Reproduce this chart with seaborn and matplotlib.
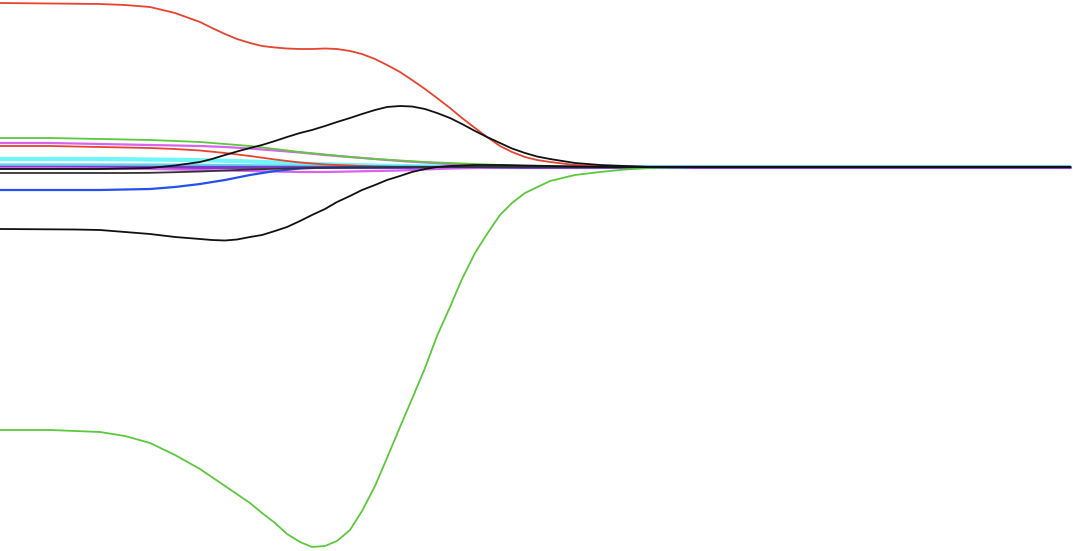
import matplotlib
matplotlib.use("Agg")
import matplotlib.pyplot as plt
import pandas as pd
import seaborn as sns

# shared grid for the nearly flat paths (step index along x)
steps = [0, 0.25, 0.5, 0.75, 1.0, 1.25, 1.5, 1.75, 2.0, 2.25, 2.5, 2.75, 3.0, 3.25, 3.5,
         3.75, 4.0, 4.25, 4.5, 4.75, 5.0, 5.25, 5.5, 5.75, 6.0, 6.25, 6.5, 6.75, 7.0, 10.7]

cyan_wide = [0.08, 0.08, 0.08, 0.08, 0.08, 0.078, 0.075, 0.072, 0.068, 0.062, 0.055, 0.045, 0.035, 0.027, 0.02,
             0.014, 0.01, 0.006, 0.003, 0.001, 0, 0, 0, 0, 0, 0, 0, 0, 0, 0]
cyan_thin = [0.025, 0.025, 0.025, 0.025, 0.025, 0.025, 0.025, 0.024, 0.023, 0.02, 0.018, 0.015, 0.012, 0.01, 0.008,
             0.006, 0.004, 0.002, 0.001, 0, 0, 0, 0, 0, 0, 0, 0, 0, 0, 0]
light_blue = [0.01, 0.01, 0.01, 0.01, 0.01, 0.01, 0.01, 0.01, 0.009, 0.008, 0.007, 0.006, 0.005, 0.004, 0.003,
              0.002, 0.001, 0, 0, 0, 0, 0, 0, 0, 0, 0, 0, 0, 0, 0]
magenta_upper = [0.24, 0.24, 0.24, 0.235, 0.23, 0.225, 0.22, 0.215, 0.21, 0.20, 0.185, 0.165, 0.145, 0.12, 0.10,
                 0.08, 0.06, 0.045, 0.03, 0.02, 0.01, 0.005, 0, 0, 0, 0, 0, 0, 0, 0]
magenta_lower = [-0.01, -0.01, -0.01, -0.012, -0.015, -0.018, -0.02, -0.025, -0.03, -0.035, -0.04, -0.045, -0.05, -0.05, -0.045,
                 -0.04, -0.035, -0.025, -0.015, -0.01, -0.005, 0, 0, 0, 0, 0, 0, 0, 0, 0]
purple_base = [0, 0, 0, 0, 0, 0, 0, 0, 0, 0, 0, 0, 0, 0, 0,
               0, 0, 0, 0, 0, 0, 0, 0, 0, 0, 0, 0, 0, 0, 0]
green_upper = [0.29, 0.29, 0.29, 0.285, 0.28, 0.275, 0.27, 0.26, 0.25, 0.23, 0.21, 0.18, 0.15, 0.125, 0.10,
               0.08, 0.065, 0.05, 0.04, 0.03, 0.02, 0.01, 0.005, 0, 0, 0, 0, 0, 0, 0]
red_lower = [0.21, 0.21, 0.21, 0.205, 0.20, 0.195, 0.19, 0.18, 0.165, 0.14, 0.11, 0.075, 0.045, 0.025, 0.015,
             0.005, 0, 0, 0, 0, 0, 0, 0, 0, 0, 0, 0, 0, 0, 0]
blue = [-0.23, -0.23, -0.23, -0.23, -0.23, -0.225, -0.22, -0.20, -0.17, -0.13, -0.08, -0.04, -0.015, -0.005, 0,
        0, 0, 0, 0, 0, 0, 0, 0, 0, 0, 0, 0, 0, 0, 0]
dark_flat = [-0.06, -0.06, -0.06, -0.06, -0.06, -0.06, -0.058, -0.052, -0.045, -0.035, -0.025, -0.018, -0.012, -0.008, -0.005,
             -0.003, -0.001, 0, 0, 0, 0, 0, 0, 0, 0, 0, 0, 0, 0, 0]

# the strongly moving paths, each read on its own finer grid
green_lower_steps = [0, 0.5, 1.0, 1.25, 1.5, 1.75, 2.0, 2.25, 2.5, 2.62, 2.75, 2.87, 3.0, 3.12, 3.25, 3.37,
                     3.5, 3.62, 3.75, 3.87, 4.0, 4.12, 4.25, 4.37, 4.5, 4.62, 4.75, 4.87, 5.0, 5.12, 5.25,
                     5.5, 5.75, 6.0, 6.25, 6.5, 7.0, 10.7]
green_lower = [-2.63, -2.63, -2.65, -2.69, -2.76, -2.88, -3.02, -3.19, -3.36, -3.46, -3.56, -3.67, -3.75, -3.80, -3.79, -3.74,
               -3.63, -3.44, -3.19, -2.91, -2.60, -2.32, -2.01, -1.69, -1.40, -1.12, -0.86, -0.67, -0.48, -0.36, -0.26,
               -0.14, -0.08, -0.05, -0.025, -0.01, 0, 0]

red_upper_steps = [0, 1.0, 1.25, 1.5, 1.75, 2.0, 2.12, 2.25, 2.37, 2.5, 2.62, 2.75, 2.87, 3.0, 3.12, 3.25, 3.37,
                   3.5, 3.62, 3.75, 3.87, 4.0, 4.12, 4.25, 4.37, 4.5, 4.62, 4.75, 4.87, 5.0, 5.12, 5.25, 5.37,
                   5.5, 5.75, 6.0, 6.5, 10.7]
red_upper = [1.64, 1.63, 1.62, 1.60, 1.54, 1.45, 1.39, 1.33, 1.28, 1.24, 1.21, 1.195, 1.185, 1.18, 1.18, 1.185, 1.18,
             1.16, 1.13, 1.08, 1.02, 0.95, 0.87, 0.78, 0.69, 0.59, 0.49, 0.39, 0.30, 0.21, 0.15, 0.10, 0.07,
             0.05, 0.02, 0.01, 0, 0]

black_bump_steps = [0, 1.0, 1.5, 1.75, 2.0, 2.12, 2.25, 2.37, 2.5, 2.62, 2.75, 2.87, 3.0, 3.12, 3.25, 3.37,
                    3.5, 3.62, 3.75, 3.87, 4.0, 4.12, 4.25, 4.37, 4.5, 4.62, 4.75, 4.87, 5.0, 5.12, 5.25, 5.37,
                    5.5, 5.75, 6.0, 6.25, 6.5, 10.7]
black_bump = [-0.02, -0.02, -0.01, 0.015, 0.05, 0.08, 0.12, 0.155, 0.19, 0.22, 0.26, 0.30, 0.34, 0.37, 0.41, 0.45,
              0.49, 0.53, 0.57, 0.60, 0.61, 0.605, 0.58, 0.54, 0.49, 0.43, 0.36, 0.30, 0.24, 0.185, 0.14, 0.105,
              0.08, 0.04, 0.02, 0.01, 0, 0]

black_lower_steps = [0, 0.75, 1.0, 1.25, 1.5, 1.75, 2.0, 2.12, 2.25, 2.37, 2.5, 2.62, 2.75, 2.87, 3.0, 3.12,
                     3.25, 3.37, 3.5, 3.62, 3.75, 3.87, 4.0, 4.12, 4.25, 4.37, 4.5, 4.75, 5.0, 5.5, 6.0, 10.7]
black_lower = [-0.62, -0.625, -0.63, -0.65, -0.67, -0.70, -0.72, -0.73, -0.735, -0.725, -0.70, -0.68, -0.64, -0.60, -0.54, -0.48,
               -0.42, -0.35, -0.29, -0.23, -0.18, -0.13, -0.09, -0.05, -0.02, 0.0, 0.01, 0.02, 0.02, 0.01, 0, 0]

# name, x, values, colour, width (drawn in this order)
paths = [
    ("cyan_wide", steps, cyan_wide, "#6ff6f8", 3.0),
    ("cyan_thin", steps, cyan_thin, "#55d8f0", 1.6),
    ("light_blue", steps, light_blue, "#7fb0e6", 1.4),
    ("purple_base", steps, purple_base, "#7a3cc8", 2.2),
    ("magenta_lower", steps, magenta_lower, "#d763ee", 1.6),
    ("magenta_upper", steps, magenta_upper, "#d763ee", 1.6),
    ("green_upper", steps, green_upper, "#5cc83c", 1.3),
    ("green_lower", green_lower_steps, green_lower, "#5cc83c", 1.3),
    ("red_lower", steps, red_lower, "#e8432f", 1.3),
    ("red_upper", red_upper_steps, red_upper, "#e8432f", 1.3),
    ("blue", steps, blue, "#2450f0", 1.6),
    ("dark_flat", steps, dark_flat, "#333333", 1.3),
    ("black_lower", black_lower_steps, black_lower, "#111111", 1.3),
    ("black_bump", black_bump_steps, black_bump, "#111111", 1.3),
]

sns.set_style("white")
fig, ax = plt.subplots(figsize=(10.73, 5.51), dpi=100)
fig.subplots_adjust(left=0, right=1, bottom=0, top=1)

for name, xs, vals, color, lw in paths:
    df = pd.DataFrame({"step": xs, "coef": vals})
    sns.lineplot(data=df, x="step", y="coef", color=color, linewidth=lw,
                 estimator=None, sort=False, ax=ax, solid_joinstyle="round")

ax.set_xlim(0, 10.73)
ax.set_ylim(-3.84, 1.67)
ax.set_axis_off()

plt.savefig("out.png", dpi=100)
plt.close()
